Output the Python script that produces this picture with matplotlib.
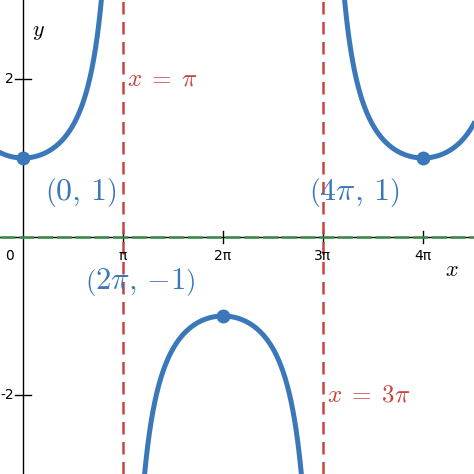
import numpy as np
import matplotlib.pyplot as plt

plt.rcParams['mathtext.fontset'] = 'cm'

# data
point_x = [0, 2 * np.pi, 4 * np.pi]
point_y = [1, -1, 1]
point_labels = [r'$\left(0,\,1\right)$', r'$\left(2\pi,\,{-1}\right)$', r'$\left(4\pi,\,1\right)$']
asymptotes = [np.pi, 3 * np.pi]
asym_labels = [r'$x\;=\;\pi$', r'$x\;=\;3\pi$']
xtick_vals = [np.pi, 2 * np.pi, 3 * np.pi, 4 * np.pi]
xtick_labels = ['π', '2π', '3π', '4π']
ytick_vals = [-2, 2]

blue = '#3a78ba'
red = '#c74440'
green = '#388c46'

fig = plt.figure(figsize=(4.74, 4.74), dpi=100)
ax = fig.add_axes([0, 0, 1, 1])
ax.set_xlim(-0.7226, 14.17)
ax.set_ylim(-3, 3)

# curve y = sec(x/2), split at the asymptotes
edges = [-0.8] + asymptotes + [14.3]
for a, b in zip(edges[:-1], edges[1:]):
    xs = np.linspace(a + 1e-3, b - 1e-3, 800)
    ys = 1 / np.cos(xs / 2)
    ax.plot(xs, ys, color=blue, lw=3.6, solid_capstyle='butt', zorder=4)

ax.plot(point_x, point_y, 'o', color=blue, ms=9, zorder=5)

for xa in asymptotes:
    ax.axvline(xa, color=red, lw=1.8, dashes=(5, 3), zorder=3)

# axes
ax.axhline(0, color='black', lw=1.0, zorder=2)
ax.axvline(0, color='black', lw=1.0, zorder=2)
ax.axhline(0, color=green, lw=1.8, dashes=(6, 1.5), zorder=3)
for s in ax.spines.values():
    s.set_visible(False)
ax.set_xticks([])
ax.set_yticks([])

tk = 0.08
for xv, lab in zip(xtick_vals, xtick_labels):
    ax.plot([xv, xv], [-tk, tk], color='black', lw=1.0, zorder=2)
    ax.text(xv, -0.15, lab, ha='center', va='top', fontsize=10, family='DejaVu Sans')
ax.text(-0.28, -0.15, '0', ha='right', va='top', fontsize=10, family='DejaVu Sans')
for yv in ytick_vals:
    ax.plot([-0.25, 0.25], [yv, yv], color='black', lw=1.0, zorder=2)
    ax.text(-0.28, yv, str(yv), ha='right', va='center', fontsize=10, family='DejaVu Sans')

ax.text(0.5, 2.6, r'$y$', fontsize=16, ha='center', va='center')
ax.text(13.48, -0.42, r'$x$', fontsize=16, ha='center', va='center')

# point labels
ax.text(0.68, 0.56, point_labels[0], color=blue, fontsize=23, ha='left', va='center')
ax.text(1.95, -0.57, point_labels[1], color=blue, fontsize=22, ha='left', va='center')
ax.text(9.0, 0.56, point_labels[2], color=blue, fontsize=23, ha='left', va='center')

# asymptote labels
ax.text(np.pi + 0.13, 2.0, asym_labels[0], color=red, fontsize=18, ha='left', va='center')
ax.text(3 * np.pi + 0.13, -2.0, asym_labels[1], color=red, fontsize=18, ha='left', va='center')

fig.savefig('out.png', dpi=100)
